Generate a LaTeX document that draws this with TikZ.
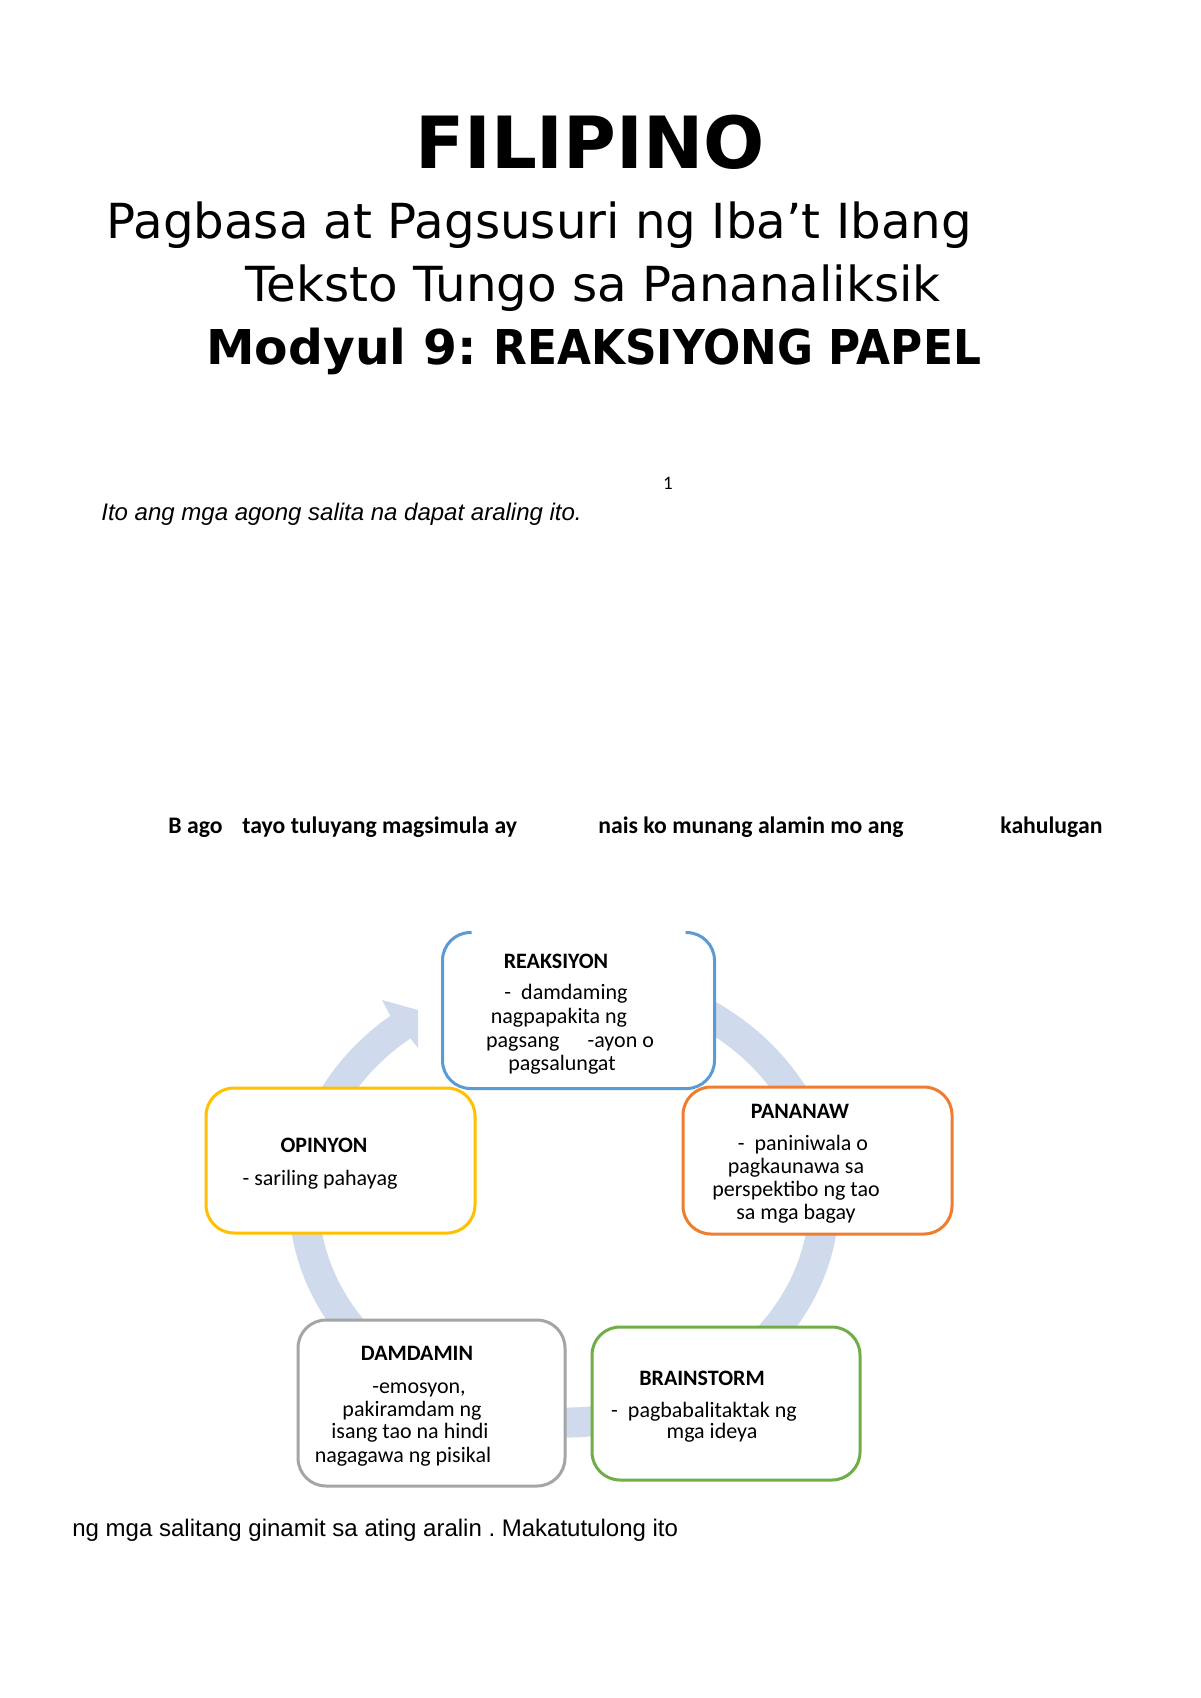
\documentclass[tikz,border=0pt]{standalone}
\usepackage{fontspec}
\setmainfont{Carlito}
\newfontfamily\dejavu{DejaVu Sans}
\newfontfamily\arialf{Liberation Sans}
\newfontfamily\carlito{Carlito}
\definecolor{ringblue}{RGB}{207,219,237}
\definecolor{reakblue}{RGB}{91,155,213}
\definecolor{panorange}{RGB}{237,125,49}
\definecolor{opyellow}{RGB}{255,192,0}
\definecolor{damgray}{RGB}{165,165,165}
\definecolor{brgreen}{RGB}{112,173,71}
\frenchspacing
\begin{document}
\begin{tikzpicture}[x=0.5pt,y=-0.5pt,
  cyclebox/.style={rectangle, rounded corners=14pt, line width=1.5pt, fill=white, inner sep=0pt, minimum width=134.5pt},
  boxtitle/.style={font=\carlito\bfseries\fontsize{11}{13}\selectfont, anchor=base, inner sep=0pt},
  boxtext/.style={font=\carlito\fontsize{11}{13}\selectfont, anchor=base, inner sep=0pt},
  headtext/.style={font=\dejavu\fontsize{24.15}{29}\selectfont, anchor=base west, inner sep=0pt},
  arialtext/.style={font=\arialf\fontsize{12}{14}\selectfont, anchor=base west, inner sep=0pt},
  introtext/.style={font=\carlito\bfseries\fontsize{11.85}{14}\selectfont, anchor=base west, inner sep=0pt}]
\useasboundingbox[fill=white] (0,0) rectangle (1200,1698);

% header
\node[font=\dejavu\bfseries\fontsize{36}{43}\selectfont, anchor=base, inner sep=0pt] (title) at (590,168) {FILIPINO};
\node[headtext] (sub1) at (106,238) {Pagbasa at Pagsusuri ng Iba’t Ibang};
\node[headtext] (sub2) at (245,301) {Teksto Tungo sa Pananaliksik};
\node[headtext, font=\dejavu\bfseries\fontsize{24}{29}\selectfont] (modyul) at (206,364) {\scalebox{1.016}[1]{Modyul 9:} \scalebox{0.914}[1]{REAKSIYONG PAPEL}};
\node[font=\carlito\fontsize{9.5}{11}\selectfont, anchor=base, inner sep=0pt] (pnum) at (668,489) {1};
\node[arialtext, font=\arialf\itshape\fontsize{12}{14}\selectfont] (ito) at (101,520) {Ito ang mga agong salita na dapat araling ito.};
\node[introtext] (bago) at (168,833) {B ago};
\node[introtext] (tayo) at (242,833) {tayo tuluyang magsimula ay};
\node[introtext] (nais) at (598,833) {nais ko munang alamin mo ang};
\node[introtext] (kahulugan) at (1000,833) {kahulugan};
\node[arialtext] (bottom) at (72,1536) {ng mga salitang ginamit sa ating aralin . Makatutulong ito};

% ring
\draw[ringblue, line width=15pt] (564,1200) ++(-105:260 and 222.5) arc[start angle=-105, end angle=228.5, x radius=260, y radius=222.5];
\fill[ringblue] (379.3,1023.9) -- (390.3,1015.8) -- (382,1000) -- (418,1010) -- (418,1048) -- (410.4,1038.4) -- (400.7,1045.4) -- cycle;

% boxes
\node[cyclebox, minimum height=76.5pt] (reak) at (578.5,1010.5) {};
\draw[reakblue, line width=1.5pt, rounded corners=14pt] ([xshift=14.5pt]reak.north west) -- (reak.north west) -- (reak.south west) -- (reak.south east) -- (reak.north east) -- ([xshift=-14.5pt]reak.north east);
\node[cyclebox, draw=opyellow, minimum height=72.5pt] (opin) at (340.5,1160.5) {};
\node[cyclebox, draw=panorange, minimum height=73.5pt] (panan) at (817.5,1160.5) {};
\node[cyclebox, draw=damgray, minimum width=133.5pt, minimum height=83pt] (damd) at (431.5,1403) {};
\node[cyclebox, draw=brgreen, minimum width=134pt, minimum height=76.5pt] (brain) at (726,1403.5) {};

% box texts
\node[boxtitle] (reakT) at (556,968) {REAKSIYON};
\node[boxtext] (reak1) at (566,999) {-\hspace{5pt}damdaming};
\node[boxtext] (reak2) at (559,1023) {nagpapakita ng};
\node[boxtext] (reak3) at (570,1047) {pagsang\hspace{14pt}-ayon o};
\node[boxtext] (reak4) at (562,1070) {pagsalungat};

\node[boxtitle] (pananT) at (800,1118) {PANANAW};
\node[boxtext] (panan1) at (803,1150) {-\hspace{5pt}paniniwala o};
\node[boxtext] (panan2) at (796,1173) {pagkaunawa sa};
\node[boxtext] (panan3) at (796,1196) {perspektibo ng tao};
\node[boxtext] (panan4) at (796,1219) {sa mga bagay};

\node[boxtitle] (opinT) at (324,1152) {OPINYON};
\node[boxtext] (opin1) at (320,1185) {- sariling pahayag};

\node[boxtitle] (damdT) at (417,1360) {DAMDAMIN};
\node[boxtext] (damd1) at (419,1393) {-emosyon,};
\node[boxtext] (damd2) at (412,1416) {pakiramdam ng};
\node[boxtext] (damd3) at (410,1438) {isang tao na hindi};
\node[boxtext] (damd4) at (403,1462) {nagagawa ng pisikal};

\node[boxtitle] (brainT) at (702,1385) {BRAINSTORM};
\node[boxtext] (brain1) at (704,1417) {-\hspace{5pt}pagbabalitaktak ng};
\node[boxtext] (brain2) at (712,1438) {mga ideya};
\end{tikzpicture}
\end{document}
